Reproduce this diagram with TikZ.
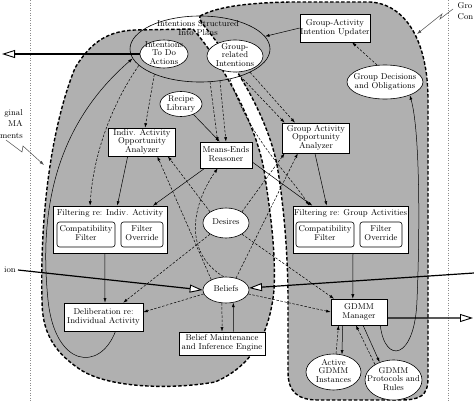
\documentclass[tikz,border=0pt]{standalone}
\usetikzlibrary{arrows.meta,shapes.geometric}
\definecolor{blobgray}{RGB}{176,176,176}
\newcommand{\mytxt}[1]{\smash{\makebox[0pt]{\raisebox{-2.1pt}{\begin{tabular}{@{}c@{}}#1\end{tabular}}}}}
\begin{document}
\begin{tikzpicture}[x=1pt,y=-1pt,
  font=\fontsize{8.5}{8.7}\selectfont,
  box/.style={draw, fill=white, line width=0.6pt, inner sep=0pt, rectangle},
  ell/.style={draw, fill=white, line width=0.6pt, inner sep=0pt, ellipse},
  rbox/.style={draw, fill=white, line width=0.6pt, inner sep=0pt, rectangle, rounded corners=2.5pt},
  arr/.style={-{Latex[length=4.5pt,width=3pt]}, line width=0.5pt},
  darr/.style={arr, dash pattern=on 2.5pt off 1.6pt},
  bigarr/.style={-{Triangle[length=13pt,width=8pt,fill=white,line width=0.9pt]}, line width=1.2pt},
  blob/.style={fill=blobgray, line width=1.4pt, dash pattern=on 3.5pt off 2pt},
  light/.style={-{Latex[length=4.5pt,width=3pt]}, line width=0.5pt, black!70},
  guide/.style={black!45, line width=0.5pt, dash pattern=on 1pt off 1.5pt}]
\useasboundingbox (0,0) rectangle (474,402);
% guide lines
\draw[guide] (30,0) -- (30,402);
\draw[guide] (448,0) -- (448,402);
% blobs
\draw[blob] (42,300) .. controls (40,220) and (50,130) .. (75,68) .. controls (92,40) and (110,31) .. (135,30) -- (193,29)
  .. controls (220,60) and (255,120) .. (264,170) .. controls (270,210) and (276,250) .. (274,290)
  .. controls (270,330) and (255,365) .. (215,382) .. controls (170,390) and (105,388) .. (78,368)
  .. controls (52,350) and (42,330) .. cycle;
\draw[blob] (200,16) .. controls (215,8) and (240,3) .. (290,2) -- (370,2) .. controls (405,4) and (428,40) .. (428,100)
  -- (428,378) .. controls (428,396) and (420,400) .. (400,400) -- (318,400) .. controls (298,400) and (288,392) .. (288,372)
  -- (288,300) .. controls (288,250) and (283,200) .. (277,165) .. controls (268,120) and (240,70) .. (205,27)
  .. controls (201,22) and (199,19) .. cycle;
% big ellipse
\node[draw, ellipse, line width=0.6pt, minimum width=140pt, minimum height=66pt, inner sep=0pt] (isp) at (200,49) {};
\node (ispt) at (198,29.5) {\mytxt{Intentions Structured\\Into Plans}};
% nodes
\node[ell, minimum width=48pt, minimum height=28pt] (ita) at (164,54) {\mytxt{Intentions\\To Do\\Actions}};
\node[ell, minimum width=56pt, minimum height=32pt] (gri) at (235,56) {\mytxt{Group-\\related\\Intentions}};
\node[box, minimum width=70pt, minimum height=28pt] (gau) at (335,28) {\mytxt{Group-Activity\\Intention Updater}};
\node[ell, minimum width=76pt, minimum height=34pt] (gdo) at (385,82) {\mytxt{Group Decisions\\and Obligations}};
\node[ell, minimum width=42pt, minimum height=25pt] (rl) at (181,104) {\mytxt{Recipe\\Library}};
\node[box, minimum width=67pt, minimum height=28pt] (iao) at (142,142) {\mytxt{Indiv. Activity\\Opportunity\\Analyzer}};
\node[box, minimum width=52pt, minimum height=26pt] (mer) at (226,155) {\mytxt{Means-Ends\\Reasoner}};
\node[box, minimum width=67pt, minimum height=30pt] (gao) at (316,138) {\mytxt{Group Activity\\Opportunity\\Analyzer}};
\node[box, minimum width=114pt, minimum height=47pt] (fi) at (110,229.5) {};
\node (fit) at (110,213.5) {\mytxt{Filtering re: Indiv. Activity}};
\node[rbox, minimum width=58pt, minimum height=25pt] (fic) at (86,234.5) {\mytxt{Compatibility\\Filter}};
\node[rbox, minimum width=42pt, minimum height=25pt] (fio) at (142,234.5) {\mytxt{Filter\\Override}};
\node[box, minimum width=115pt, minimum height=47pt] (fg) at (350.5,229.5) {};
\node (fgt) at (350.5,213.5) {\mytxt{Filtering re: Group Activities}};
\node[rbox, minimum width=58pt, minimum height=25pt] (fgc) at (325,234.5) {\mytxt{Compatibility\\Filter}};
\node[rbox, minimum width=42pt, minimum height=25pt] (fgo) at (381,234.5) {\mytxt{Filter\\Override}};
\node[ell, minimum width=46pt, minimum height=30pt] (des) at (226,223) {\mytxt{Desires}};
\node[ell, minimum width=46pt, minimum height=26pt] (bel) at (226,290) {\mytxt{Beliefs}};
\node[box, minimum width=79pt, minimum height=28pt] (dri) at (103.5,317) {\mytxt{Deliberation re:\\Individual Activity}};
\node[box, minimum width=86pt, minimum height=23pt] (bme) at (222,343.5) {\mytxt{Belief Maintenance\\and Inference Engine}};
\node[box, minimum width=56pt, minimum height=26pt] (gmm) at (359,312) {\mytxt{GDMM\\Manager}};
\node[ell, minimum width=55pt, minimum height=36pt] (agi) at (333.5,372) {\mytxt{Active\\GDMM\\Instances}};
\node[ell, minimum width=57pt, minimum height=40pt] (gpr) at (393.5,380) {\mytxt{GDMM\\Protocols and\\Rules}};
% side texts
\node[anchor=east, align=right, inner sep=0pt, font=\fontsize{8.5}{11.5}\selectfont] (origt) at (23,124) {ginal\\MA\\ments};
\node[anchor=west, align=left, inner sep=0pt, font=\fontsize{8.5}{11.5}\selectfont] (grpt) at (457.5,11) {Gro\\Con};
\node[anchor=east, inner sep=0pt] (pert) at (16,270) {ion};
\coordinate (lz1) at (6,140);
\coordinate (lz2) at (44,165);
\coordinate (rz1) at (453,9);
\coordinate (rz2) at (417,34);
\coordinate (outL) at (2,54);
\coordinate (inL) at (18,270);
\coordinate (inR) at (474,273);
\coordinate (outR) at (473,318);
\draw[light] (lz1) -- (22,152) -- (23,146) -- (lz2);
\draw[light] (rz1) -- (440,19) -- (442,14) -- (rz2);
% thick arrows
\draw[bigarr] (ita.west) -- (outL);
\draw[bigarr] (inL) -- (bel.west);
\draw[bigarr] (inR) -- (bel.5);
\draw[bigarr] (gmm.-12) -- (outR);
% solid arrows
\draw[arr] (gau.west) -- (isp.11);
\draw[arr] (rl.-40) -- (mer.115);
\draw[arr] (iao.-135) -- (fi.73);
\draw[arr] (mer.-148) -- (fi.29);
\draw[arr] (mer.-15) -- (fg.148);
\draw[arr] (gao.-94) -- (fg.135);
\draw[arr] (fi.-102) -- (dri.84);
\draw[arr] (fg.-84) -- (gmm.115);
\draw[arr] (bme.46) -- (bel.-60);
\draw[arr] (gmm.-141) -- (agi.64);
\draw[arr] (gmm.-73) -- (gpr.128);
\draw[arr] (dri.-50) .. controls (100,372) and (55,368) .. (48,300) .. controls (40,220) and (50,130) .. (isp.-172);
\draw[arr] (gmm.-32) .. controls (385,365) and (415,360) .. (417,300) .. controls (420,230) and (420,130) .. (gdo.-28);
% dashed arrows
\draw[darr] (gdo.115) -- (gau.-40);
\draw[darr] (bel.-107) -- (bme.north);
\draw[darr] (agi.82) -- (gmm.-147);
\draw[darr] (gpr.140) -- (gmm.-103);
\draw[darr] (bel.190) -- (dri.7);
\draw[darr] (bel.-10) -- (gmm.west);
\draw[darr] (des.215) -- (dri.36);
\draw[darr] (des.-35) -- (gmm.152);
\draw[darr] (des.145) -- (iao.-29);
\draw[darr] (bel.145) -- (iao.-43);
\draw[darr] (bel.100) .. controls (180,250) and (195,200) .. (mer.-122);
\draw[darr] (bel.50) -- (gao.-140);
\draw[darr] (des.35) -- (gao.-154);
\draw[darr] (isp.-165) .. controls (108,110) and (93,160) .. (fi.130);
\draw[darr] (isp.-151) -- (iao.78);
\draw[darr] (isp.-73) -- (mer.122);
\draw[darr] (isp.-58) -- (mer.90);
\draw[darr] (isp.-34) -- (gao.154);
\draw[darr] (isp.-25) -- (gao.144);
\draw[darr] (isp.-45) .. controls (250,140) and (290,175) .. (fg.150);
\end{tikzpicture}
\end{document}
